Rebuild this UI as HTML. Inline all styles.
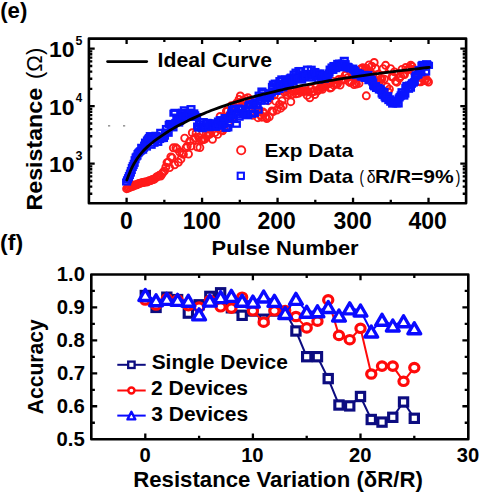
<!DOCTYPE html>
<html><head><meta charset="utf-8"><style>
html,body{margin:0;padding:0;background:#fff;}
body{width:480px;height:493px;overflow:hidden;font-family:"Liberation Sans",sans-serif;}
svg{display:block;}
</style></head><body>
<svg width="480" height="493" viewBox="0 0 480 493" font-family="&quot;Liberation Sans&quot;, sans-serif">
<rect width="480" height="493" fill="#fff"/>
<g fill="none" stroke="#ff1a1a" stroke-width="1.9">
<circle cx="126.6" cy="188.7" r="3.5"/>
<circle cx="127.9" cy="188.2" r="3.5"/>
<circle cx="129.1" cy="187.7" r="3.5"/>
<circle cx="130.4" cy="187.0" r="3.5"/>
<circle cx="131.7" cy="186.4" r="3.5"/>
<circle cx="132.9" cy="186.3" r="3.5"/>
<circle cx="134.2" cy="185.0" r="3.5"/>
<circle cx="135.4" cy="185.2" r="3.5"/>
<circle cx="136.7" cy="184.8" r="3.5"/>
<circle cx="138.0" cy="184.0" r="3.5"/>
<circle cx="139.2" cy="183.5" r="3.5"/>
<circle cx="140.5" cy="183.1" r="3.5"/>
<circle cx="141.8" cy="182.7" r="3.5"/>
<circle cx="143.0" cy="182.5" r="3.5"/>
<circle cx="144.3" cy="182.2" r="3.5"/>
<circle cx="145.5" cy="181.9" r="3.5"/>
<circle cx="146.8" cy="182.0" r="3.5"/>
<circle cx="148.1" cy="181.3" r="3.5"/>
<circle cx="149.3" cy="180.8" r="3.5"/>
<circle cx="150.6" cy="180.6" r="3.5"/>
<circle cx="151.9" cy="179.8" r="3.5"/>
<circle cx="153.1" cy="179.5" r="3.5"/>
<circle cx="154.4" cy="179.1" r="3.5"/>
<circle cx="155.7" cy="177.9" r="3.5"/>
<circle cx="156.9" cy="176.6" r="3.5"/>
<circle cx="158.2" cy="176.4" r="3.5"/>
<circle cx="159.4" cy="175.3" r="3.5"/>
<circle cx="160.7" cy="176.1" r="3.5"/>
<circle cx="162.0" cy="174.0" r="3.5"/>
<circle cx="163.2" cy="172.2" r="3.5"/>
<circle cx="164.5" cy="170.9" r="3.5"/>
<circle cx="165.8" cy="167.2" r="3.5"/>
<circle cx="167.0" cy="162.6" r="3.5"/>
<circle cx="168.3" cy="162.1" r="3.5"/>
<circle cx="169.6" cy="167.6" r="3.5"/>
<circle cx="170.8" cy="156.9" r="3.5"/>
<circle cx="172.1" cy="157.8" r="3.5"/>
<circle cx="173.3" cy="147.8" r="3.5"/>
<circle cx="174.6" cy="164.8" r="3.5"/>
<circle cx="175.9" cy="147.8" r="3.5"/>
<circle cx="177.1" cy="148.9" r="3.5"/>
<circle cx="178.4" cy="162.3" r="3.5"/>
<circle cx="179.7" cy="152.0" r="3.5"/>
<circle cx="180.9" cy="159.2" r="3.5"/>
<circle cx="182.2" cy="153.1" r="3.5"/>
<circle cx="183.4" cy="154.4" r="3.5"/>
<circle cx="184.7" cy="138.1" r="3.5"/>
<circle cx="186.0" cy="147.8" r="3.5"/>
<circle cx="187.2" cy="146.2" r="3.5"/>
<circle cx="188.5" cy="154.1" r="3.5"/>
<circle cx="189.8" cy="141.2" r="3.5"/>
<circle cx="191.0" cy="146.1" r="3.5"/>
<circle cx="192.3" cy="132.7" r="3.5"/>
<circle cx="193.6" cy="139.7" r="3.5"/>
<circle cx="194.8" cy="137.7" r="3.5"/>
<circle cx="196.1" cy="133.2" r="3.5"/>
<circle cx="197.3" cy="147.0" r="3.5"/>
<circle cx="198.6" cy="137.2" r="3.5"/>
<circle cx="199.9" cy="147.6" r="3.5"/>
<circle cx="201.1" cy="140.2" r="3.5"/>
<circle cx="202.4" cy="139.8" r="3.5"/>
<circle cx="203.7" cy="139.4" r="3.5"/>
<circle cx="204.9" cy="139.1" r="3.5"/>
<circle cx="206.2" cy="133.7" r="3.5"/>
<circle cx="207.4" cy="135.7" r="3.5"/>
<circle cx="208.7" cy="132.9" r="3.5"/>
<circle cx="210.0" cy="134.0" r="3.5"/>
<circle cx="211.2" cy="128.6" r="3.5"/>
<circle cx="212.5" cy="139.3" r="3.5"/>
<circle cx="213.8" cy="126.1" r="3.5"/>
<circle cx="215.0" cy="132.6" r="3.5"/>
<circle cx="216.3" cy="123.9" r="3.5"/>
<circle cx="217.6" cy="134.4" r="3.5"/>
<circle cx="218.8" cy="128.8" r="3.5"/>
<circle cx="220.1" cy="116.5" r="3.5"/>
<circle cx="221.3" cy="130.0" r="3.5"/>
<circle cx="222.6" cy="130.8" r="3.5"/>
<circle cx="223.9" cy="128.2" r="3.5"/>
<circle cx="225.1" cy="120.2" r="3.5"/>
<circle cx="226.4" cy="111.2" r="3.5"/>
<circle cx="227.7" cy="110.9" r="3.5"/>
<circle cx="228.9" cy="121.5" r="3.5"/>
<circle cx="230.2" cy="113.6" r="3.5"/>
<circle cx="231.5" cy="105.6" r="3.5"/>
<circle cx="232.7" cy="115.8" r="3.5"/>
<circle cx="234.0" cy="109.9" r="3.5"/>
<circle cx="235.2" cy="107.3" r="3.5"/>
<circle cx="236.5" cy="103.1" r="3.5"/>
<circle cx="237.8" cy="102.8" r="3.5"/>
<circle cx="239.0" cy="99.4" r="3.5"/>
<circle cx="240.3" cy="96.0" r="3.5"/>
<circle cx="241.6" cy="106.4" r="3.5"/>
<circle cx="242.8" cy="100.6" r="3.5"/>
<circle cx="244.1" cy="101.0" r="3.5"/>
<circle cx="245.3" cy="98.8" r="3.5"/>
<circle cx="246.6" cy="105.2" r="3.5"/>
<circle cx="247.9" cy="97.6" r="3.5"/>
<circle cx="249.1" cy="103.3" r="3.5"/>
<circle cx="250.4" cy="99.9" r="3.5"/>
<circle cx="251.7" cy="102.2" r="3.5"/>
<circle cx="252.9" cy="115.2" r="3.5"/>
<circle cx="254.2" cy="111.8" r="3.5"/>
<circle cx="255.5" cy="109.4" r="3.5"/>
<circle cx="256.7" cy="111.7" r="3.5"/>
<circle cx="258.0" cy="117.7" r="3.5"/>
<circle cx="259.2" cy="110.3" r="3.5"/>
<circle cx="260.5" cy="114.9" r="3.5"/>
<circle cx="261.8" cy="117.2" r="3.5"/>
<circle cx="263.0" cy="112.0" r="3.5"/>
<circle cx="264.3" cy="113.4" r="3.5"/>
<circle cx="265.6" cy="116.7" r="3.5"/>
<circle cx="266.8" cy="118.5" r="3.5"/>
<circle cx="268.1" cy="100.7" r="3.5"/>
<circle cx="269.3" cy="116.8" r="3.5"/>
<circle cx="270.6" cy="93.9" r="3.5"/>
<circle cx="271.9" cy="111.0" r="3.5"/>
<circle cx="273.1" cy="111.7" r="3.5"/>
<circle cx="274.4" cy="95.1" r="3.5"/>
<circle cx="275.7" cy="101.2" r="3.5"/>
<circle cx="276.9" cy="110.0" r="3.5"/>
<circle cx="278.2" cy="90.3" r="3.5"/>
<circle cx="279.5" cy="104.5" r="3.5"/>
<circle cx="280.7" cy="108.2" r="3.5"/>
<circle cx="282.0" cy="100.8" r="3.5"/>
<circle cx="283.2" cy="105.8" r="3.5"/>
<circle cx="284.5" cy="92.3" r="3.5"/>
<circle cx="285.8" cy="91.0" r="3.5"/>
<circle cx="287.0" cy="94.8" r="3.5"/>
<circle cx="288.3" cy="90.1" r="3.5"/>
<circle cx="289.6" cy="93.2" r="3.5"/>
<circle cx="290.8" cy="101.7" r="3.5"/>
<circle cx="292.1" cy="94.6" r="3.5"/>
<circle cx="293.4" cy="91.3" r="3.5"/>
<circle cx="294.6" cy="90.4" r="3.5"/>
<circle cx="295.9" cy="93.8" r="3.5"/>
<circle cx="297.1" cy="90.7" r="3.5"/>
<circle cx="298.4" cy="93.3" r="3.5"/>
<circle cx="299.7" cy="90.4" r="3.5"/>
<circle cx="300.9" cy="90.1" r="3.5"/>
<circle cx="302.2" cy="91.9" r="3.5"/>
<circle cx="303.5" cy="91.5" r="3.5"/>
<circle cx="304.7" cy="91.2" r="3.5"/>
<circle cx="306.0" cy="90.7" r="3.5"/>
<circle cx="307.2" cy="95.4" r="3.5"/>
<circle cx="308.5" cy="91.7" r="3.5"/>
<circle cx="309.8" cy="97.8" r="3.5"/>
<circle cx="311.0" cy="88.5" r="3.5"/>
<circle cx="312.3" cy="91.6" r="3.5"/>
<circle cx="313.6" cy="91.5" r="3.5"/>
<circle cx="314.8" cy="94.5" r="3.5"/>
<circle cx="316.1" cy="87.0" r="3.5"/>
<circle cx="317.4" cy="91.0" r="3.5"/>
<circle cx="318.6" cy="89.4" r="3.5"/>
<circle cx="319.9" cy="89.2" r="3.5"/>
<circle cx="321.1" cy="88.2" r="3.5"/>
<circle cx="322.4" cy="89.3" r="3.5"/>
<circle cx="323.7" cy="86.3" r="3.5"/>
<circle cx="324.9" cy="86.3" r="3.5"/>
<circle cx="326.2" cy="85.2" r="3.5"/>
<circle cx="327.5" cy="83.8" r="3.5"/>
<circle cx="328.7" cy="83.9" r="3.5"/>
<circle cx="330.0" cy="88.0" r="3.5"/>
<circle cx="331.2" cy="87.5" r="3.5"/>
<circle cx="332.5" cy="81.1" r="3.5"/>
<circle cx="333.8" cy="85.2" r="3.5"/>
<circle cx="335.0" cy="83.6" r="3.5"/>
<circle cx="336.3" cy="84.0" r="3.5"/>
<circle cx="337.6" cy="83.8" r="3.5"/>
<circle cx="338.8" cy="79.5" r="3.5"/>
<circle cx="340.1" cy="85.1" r="3.5"/>
<circle cx="341.4" cy="79.4" r="3.5"/>
<circle cx="342.6" cy="80.1" r="3.5"/>
<circle cx="343.9" cy="79.8" r="3.5"/>
<circle cx="345.1" cy="75.4" r="3.5"/>
<circle cx="346.4" cy="73.9" r="3.5"/>
<circle cx="347.7" cy="77.6" r="3.5"/>
<circle cx="348.9" cy="81.7" r="3.5"/>
<circle cx="350.2" cy="82.5" r="3.5"/>
<circle cx="351.5" cy="81.6" r="3.5"/>
<circle cx="352.7" cy="73.2" r="3.5"/>
<circle cx="354.0" cy="84.6" r="3.5"/>
<circle cx="355.3" cy="83.2" r="3.5"/>
<circle cx="356.5" cy="84.1" r="3.5"/>
<circle cx="357.8" cy="78.0" r="3.5"/>
<circle cx="359.0" cy="83.4" r="3.5"/>
<circle cx="360.3" cy="69.4" r="3.5"/>
<circle cx="361.6" cy="68.5" r="3.5"/>
<circle cx="362.8" cy="67.7" r="3.5"/>
<circle cx="364.1" cy="70.7" r="3.5"/>
<circle cx="365.4" cy="70.0" r="3.5"/>
<circle cx="366.6" cy="68.4" r="3.5"/>
<circle cx="367.9" cy="73.6" r="3.5"/>
<circle cx="369.1" cy="64.9" r="3.5"/>
<circle cx="370.4" cy="73.5" r="3.5"/>
<circle cx="371.7" cy="66.1" r="3.5"/>
<circle cx="372.9" cy="74.7" r="3.5"/>
<circle cx="374.2" cy="62.5" r="3.5"/>
<circle cx="375.5" cy="68.2" r="3.5"/>
<circle cx="376.7" cy="81.8" r="3.5"/>
<circle cx="378.0" cy="74.4" r="3.5"/>
<circle cx="379.3" cy="81.7" r="3.5"/>
<circle cx="380.5" cy="79.2" r="3.5"/>
<circle cx="381.8" cy="78.8" r="3.5"/>
<circle cx="383.0" cy="68.6" r="3.5"/>
<circle cx="384.3" cy="79.1" r="3.5"/>
<circle cx="385.6" cy="65.3" r="3.5"/>
<circle cx="386.8" cy="86.7" r="3.5"/>
<circle cx="388.1" cy="91.6" r="3.5"/>
<circle cx="389.4" cy="89.1" r="3.5"/>
<circle cx="390.6" cy="68.6" r="3.5"/>
<circle cx="391.9" cy="76.9" r="3.5"/>
<circle cx="393.1" cy="77.1" r="3.5"/>
<circle cx="394.4" cy="71.9" r="3.5"/>
<circle cx="395.7" cy="81.3" r="3.5"/>
<circle cx="396.9" cy="82.2" r="3.5"/>
<circle cx="398.2" cy="73.6" r="3.5"/>
<circle cx="399.5" cy="78.0" r="3.5"/>
<circle cx="400.7" cy="76.4" r="3.5"/>
<circle cx="402.0" cy="69.4" r="3.5"/>
<circle cx="403.3" cy="74.4" r="3.5"/>
<circle cx="404.5" cy="74.6" r="3.5"/>
<circle cx="405.8" cy="67.5" r="3.5"/>
<circle cx="407.0" cy="70.0" r="3.5"/>
<circle cx="408.3" cy="69.5" r="3.5"/>
<circle cx="409.6" cy="68.3" r="3.5"/>
<circle cx="410.8" cy="65.2" r="3.5"/>
<circle cx="412.1" cy="66.5" r="3.5"/>
<circle cx="413.4" cy="69.4" r="3.5"/>
<circle cx="414.6" cy="72.9" r="3.5"/>
<circle cx="415.9" cy="75.8" r="3.5"/>
<circle cx="417.2" cy="77.4" r="3.5"/>
<circle cx="418.4" cy="81.2" r="3.5"/>
<circle cx="419.7" cy="81.7" r="3.5"/>
<circle cx="420.9" cy="81.8" r="3.5"/>
<circle cx="422.2" cy="78.3" r="3.5"/>
<circle cx="423.5" cy="77.2" r="3.5"/>
<circle cx="424.7" cy="80.5" r="3.5"/>
<circle cx="426.0" cy="78.6" r="3.5"/>
<circle cx="427.3" cy="80.7" r="3.5"/>
<circle cx="428.5" cy="82.0" r="3.5"/>
<circle cx="366.3" cy="95.8" r="3.5"/>
</g>
<g fill="none" stroke="#0a14ff" stroke-width="2.3">
<rect x="123.2" y="179.6" width="6.8" height="4.8"/>
<rect x="124.1" y="177.4" width="6.8" height="4.8"/>
<rect x="125.1" y="175.3" width="6.8" height="4.8"/>
<rect x="126.0" y="173.1" width="6.8" height="4.8"/>
<rect x="127.0" y="170.7" width="6.8" height="4.8"/>
<rect x="127.9" y="168.1" width="6.8" height="4.8"/>
<rect x="128.9" y="165.1" width="6.8" height="4.8"/>
<rect x="129.8" y="163.1" width="6.8" height="4.8"/>
<rect x="130.8" y="160.9" width="6.8" height="4.8"/>
<rect x="131.7" y="157.3" width="6.8" height="4.8"/>
<rect x="132.7" y="154.6" width="6.8" height="4.8"/>
<rect x="133.6" y="153.7" width="6.8" height="4.8"/>
<rect x="134.6" y="151.2" width="6.8" height="4.8"/>
<rect x="135.5" y="150.0" width="6.8" height="4.8"/>
<rect x="136.5" y="149.0" width="6.8" height="4.8"/>
<rect x="137.4" y="148.3" width="6.8" height="4.8"/>
<rect x="138.3" y="144.9" width="6.8" height="4.8"/>
<rect x="139.3" y="147.8" width="6.8" height="4.8"/>
<rect x="140.2" y="145.8" width="6.8" height="4.8"/>
<rect x="141.2" y="142.7" width="6.8" height="4.8"/>
<rect x="142.1" y="139.7" width="6.8" height="4.8"/>
<rect x="143.1" y="144.7" width="6.8" height="4.8"/>
<rect x="144.0" y="137.6" width="6.8" height="4.8"/>
<rect x="145.0" y="136.4" width="6.8" height="4.8"/>
<rect x="145.9" y="135.1" width="6.8" height="4.8"/>
<rect x="146.9" y="133.2" width="6.8" height="4.8"/>
<rect x="147.8" y="142.9" width="6.8" height="4.8"/>
<rect x="148.8" y="134.9" width="6.8" height="4.8"/>
<rect x="149.7" y="135.0" width="6.8" height="4.8"/>
<rect x="150.6" y="140.9" width="6.8" height="4.8"/>
<rect x="151.6" y="138.1" width="6.8" height="4.8"/>
<rect x="152.5" y="132.9" width="6.8" height="4.8"/>
<rect x="153.5" y="135.4" width="6.8" height="4.8"/>
<rect x="154.4" y="140.0" width="6.8" height="4.8"/>
<rect x="155.4" y="134.1" width="6.8" height="4.8"/>
<rect x="156.3" y="137.1" width="6.8" height="4.8"/>
<rect x="157.3" y="129.9" width="6.8" height="4.8"/>
<rect x="158.2" y="136.2" width="6.8" height="4.8"/>
<rect x="159.2" y="136.1" width="6.8" height="4.8"/>
<rect x="160.1" y="136.1" width="6.8" height="4.8"/>
<rect x="161.1" y="133.8" width="6.8" height="4.8"/>
<rect x="162.0" y="130.0" width="6.8" height="4.8"/>
<rect x="163.0" y="126.1" width="6.8" height="4.8"/>
<rect x="163.9" y="129.7" width="6.8" height="4.8"/>
<rect x="164.8" y="130.9" width="6.8" height="4.8"/>
<rect x="165.8" y="122.0" width="6.8" height="4.8"/>
<rect x="166.7" y="121.0" width="6.8" height="4.8"/>
<rect x="167.7" y="123.0" width="6.8" height="4.8"/>
<rect x="168.6" y="124.6" width="6.8" height="4.8"/>
<rect x="169.6" y="125.5" width="6.8" height="4.8"/>
<rect x="170.5" y="110.8" width="6.8" height="4.8"/>
<rect x="171.5" y="109.9" width="6.8" height="4.8"/>
<rect x="172.4" y="120.1" width="6.8" height="4.8"/>
<rect x="173.4" y="116.8" width="6.8" height="4.8"/>
<rect x="174.3" y="117.3" width="6.8" height="4.8"/>
<rect x="175.3" y="120.7" width="6.8" height="4.8"/>
<rect x="176.2" y="118.9" width="6.8" height="4.8"/>
<rect x="177.1" y="116.8" width="6.8" height="4.8"/>
<rect x="178.1" y="115.1" width="6.8" height="4.8"/>
<rect x="179.0" y="109.9" width="6.8" height="4.8"/>
<rect x="180.0" y="112.4" width="6.8" height="4.8"/>
<rect x="180.9" y="107.4" width="6.8" height="4.8"/>
<rect x="181.9" y="113.8" width="6.8" height="4.8"/>
<rect x="182.8" y="113.8" width="6.8" height="4.8"/>
<rect x="183.8" y="113.4" width="6.8" height="4.8"/>
<rect x="184.7" y="110.4" width="6.8" height="4.8"/>
<rect x="185.7" y="109.7" width="6.8" height="4.8"/>
<rect x="186.6" y="110.2" width="6.8" height="4.8"/>
<rect x="187.6" y="106.2" width="6.8" height="4.8"/>
<rect x="188.5" y="114.9" width="6.8" height="4.8"/>
<rect x="189.5" y="112.0" width="6.8" height="4.8"/>
<rect x="190.4" y="110.5" width="6.8" height="4.8"/>
<rect x="191.3" y="112.4" width="6.8" height="4.8"/>
<rect x="192.3" y="115.1" width="6.8" height="4.8"/>
<rect x="193.2" y="114.2" width="6.8" height="4.8"/>
<rect x="194.2" y="123.6" width="6.8" height="4.8"/>
<rect x="195.1" y="125.7" width="6.8" height="4.8"/>
<rect x="196.1" y="121.5" width="6.8" height="4.8"/>
<rect x="197.0" y="119.3" width="6.8" height="4.8"/>
<rect x="198.0" y="124.5" width="6.8" height="4.8"/>
<rect x="198.9" y="126.3" width="6.8" height="4.8"/>
<rect x="199.9" y="119.2" width="6.8" height="4.8"/>
<rect x="200.8" y="123.6" width="6.8" height="4.8"/>
<rect x="201.8" y="124.4" width="6.8" height="4.8"/>
<rect x="202.7" y="125.1" width="6.8" height="4.8"/>
<rect x="203.6" y="120.0" width="6.8" height="4.8"/>
<rect x="204.6" y="120.1" width="6.8" height="4.8"/>
<rect x="205.5" y="125.3" width="6.8" height="4.8"/>
<rect x="206.5" y="120.9" width="6.8" height="4.8"/>
<rect x="207.4" y="121.3" width="6.8" height="4.8"/>
<rect x="208.4" y="123.2" width="6.8" height="4.8"/>
<rect x="209.3" y="122.4" width="6.8" height="4.8"/>
<rect x="210.3" y="124.0" width="6.8" height="4.8"/>
<rect x="211.2" y="120.7" width="6.8" height="4.8"/>
<rect x="212.2" y="125.0" width="6.8" height="4.8"/>
<rect x="213.1" y="120.6" width="6.8" height="4.8"/>
<rect x="214.1" y="123.9" width="6.8" height="4.8"/>
<rect x="215.0" y="118.6" width="6.8" height="4.8"/>
<rect x="216.0" y="121.2" width="6.8" height="4.8"/>
<rect x="216.9" y="117.2" width="6.8" height="4.8"/>
<rect x="217.8" y="119.1" width="6.8" height="4.8"/>
<rect x="218.8" y="118.7" width="6.8" height="4.8"/>
<rect x="219.7" y="122.4" width="6.8" height="4.8"/>
<rect x="220.7" y="119.7" width="6.8" height="4.8"/>
<rect x="221.6" y="115.1" width="6.8" height="4.8"/>
<rect x="222.6" y="126.0" width="6.8" height="4.8"/>
<rect x="223.5" y="124.9" width="6.8" height="4.8"/>
<rect x="224.5" y="125.5" width="6.8" height="4.8"/>
<rect x="225.4" y="115.9" width="6.8" height="4.8"/>
<rect x="226.4" y="117.2" width="6.8" height="4.8"/>
<rect x="227.3" y="113.3" width="6.8" height="4.8"/>
<rect x="228.3" y="110.2" width="6.8" height="4.8"/>
<rect x="229.2" y="106.9" width="6.8" height="4.8"/>
<rect x="230.1" y="116.1" width="6.8" height="4.8"/>
<rect x="231.1" y="106.2" width="6.8" height="4.8"/>
<rect x="232.0" y="106.9" width="6.8" height="4.8"/>
<rect x="233.0" y="121.9" width="6.8" height="4.8"/>
<rect x="233.9" y="112.6" width="6.8" height="4.8"/>
<rect x="234.9" y="105.6" width="6.8" height="4.8"/>
<rect x="235.8" y="114.8" width="6.8" height="4.8"/>
<rect x="236.8" y="106.2" width="6.8" height="4.8"/>
<rect x="237.7" y="110.7" width="6.8" height="4.8"/>
<rect x="238.7" y="106.4" width="6.8" height="4.8"/>
<rect x="239.6" y="110.5" width="6.8" height="4.8"/>
<rect x="240.6" y="112.2" width="6.8" height="4.8"/>
<rect x="241.5" y="110.7" width="6.8" height="4.8"/>
<rect x="242.5" y="108.0" width="6.8" height="4.8"/>
<rect x="243.4" y="113.0" width="6.8" height="4.8"/>
<rect x="244.3" y="113.4" width="6.8" height="4.8"/>
<rect x="245.3" y="103.3" width="6.8" height="4.8"/>
<rect x="246.2" y="102.2" width="6.8" height="4.8"/>
<rect x="247.2" y="101.5" width="6.8" height="4.8"/>
<rect x="248.1" y="111.9" width="6.8" height="4.8"/>
<rect x="249.1" y="111.2" width="6.8" height="4.8"/>
<rect x="250.0" y="101.2" width="6.8" height="4.8"/>
<rect x="251.0" y="111.0" width="6.8" height="4.8"/>
<rect x="251.9" y="99.7" width="6.8" height="4.8"/>
<rect x="252.9" y="103.6" width="6.8" height="4.8"/>
<rect x="253.8" y="102.7" width="6.8" height="4.8"/>
<rect x="254.8" y="107.8" width="6.8" height="4.8"/>
<rect x="255.7" y="92.7" width="6.8" height="4.8"/>
<rect x="256.7" y="95.6" width="6.8" height="4.8"/>
<rect x="257.6" y="98.7" width="6.8" height="4.8"/>
<rect x="258.5" y="88.6" width="6.8" height="4.8"/>
<rect x="259.5" y="89.9" width="6.8" height="4.8"/>
<rect x="260.4" y="92.8" width="6.8" height="4.8"/>
<rect x="261.4" y="98.7" width="6.8" height="4.8"/>
<rect x="262.3" y="95.9" width="6.8" height="4.8"/>
<rect x="263.3" y="96.2" width="6.8" height="4.8"/>
<rect x="264.2" y="94.2" width="6.8" height="4.8"/>
<rect x="265.2" y="92.6" width="6.8" height="4.8"/>
<rect x="266.1" y="93.9" width="6.8" height="4.8"/>
<rect x="267.1" y="90.6" width="6.8" height="4.8"/>
<rect x="268.0" y="90.7" width="6.8" height="4.8"/>
<rect x="269.0" y="84.0" width="6.8" height="4.8"/>
<rect x="269.9" y="81.7" width="6.8" height="4.8"/>
<rect x="270.8" y="88.7" width="6.8" height="4.8"/>
<rect x="271.8" y="80.7" width="6.8" height="4.8"/>
<rect x="272.7" y="89.1" width="6.8" height="4.8"/>
<rect x="273.7" y="84.6" width="6.8" height="4.8"/>
<rect x="274.6" y="81.0" width="6.8" height="4.8"/>
<rect x="275.6" y="87.1" width="6.8" height="4.8"/>
<rect x="276.5" y="78.2" width="6.8" height="4.8"/>
<rect x="277.5" y="81.6" width="6.8" height="4.8"/>
<rect x="278.4" y="76.5" width="6.8" height="4.8"/>
<rect x="279.4" y="85.5" width="6.8" height="4.8"/>
<rect x="280.3" y="80.8" width="6.8" height="4.8"/>
<rect x="281.3" y="82.8" width="6.8" height="4.8"/>
<rect x="282.2" y="76.6" width="6.8" height="4.8"/>
<rect x="283.2" y="81.8" width="6.8" height="4.8"/>
<rect x="284.1" y="80.3" width="6.8" height="4.8"/>
<rect x="285.0" y="79.2" width="6.8" height="4.8"/>
<rect x="286.0" y="82.6" width="6.8" height="4.8"/>
<rect x="286.9" y="75.5" width="6.8" height="4.8"/>
<rect x="287.9" y="74.7" width="6.8" height="4.8"/>
<rect x="288.8" y="78.0" width="6.8" height="4.8"/>
<rect x="289.8" y="79.7" width="6.8" height="4.8"/>
<rect x="290.7" y="71.7" width="6.8" height="4.8"/>
<rect x="291.7" y="76.5" width="6.8" height="4.8"/>
<rect x="292.6" y="69.7" width="6.8" height="4.8"/>
<rect x="293.6" y="74.4" width="6.8" height="4.8"/>
<rect x="294.5" y="77.1" width="6.8" height="4.8"/>
<rect x="295.5" y="68.2" width="6.8" height="4.8"/>
<rect x="296.4" y="76.0" width="6.8" height="4.8"/>
<rect x="297.3" y="68.1" width="6.8" height="4.8"/>
<rect x="298.3" y="77.7" width="6.8" height="4.8"/>
<rect x="299.2" y="72.7" width="6.8" height="4.8"/>
<rect x="300.2" y="71.7" width="6.8" height="4.8"/>
<rect x="301.1" y="74.4" width="6.8" height="4.8"/>
<rect x="302.1" y="72.1" width="6.8" height="4.8"/>
<rect x="303.0" y="73.8" width="6.8" height="4.8"/>
<rect x="304.0" y="66.7" width="6.8" height="4.8"/>
<rect x="304.9" y="71.3" width="6.8" height="4.8"/>
<rect x="305.9" y="71.4" width="6.8" height="4.8"/>
<rect x="306.8" y="75.7" width="6.8" height="4.8"/>
<rect x="307.8" y="66.8" width="6.8" height="4.8"/>
<rect x="308.7" y="71.5" width="6.8" height="4.8"/>
<rect x="309.7" y="73.7" width="6.8" height="4.8"/>
<rect x="310.6" y="73.3" width="6.8" height="4.8"/>
<rect x="311.5" y="69.1" width="6.8" height="4.8"/>
<rect x="312.5" y="74.5" width="6.8" height="4.8"/>
<rect x="313.4" y="71.4" width="6.8" height="4.8"/>
<rect x="314.4" y="70.9" width="6.8" height="4.8"/>
<rect x="315.3" y="77.6" width="6.8" height="4.8"/>
<rect x="316.3" y="70.5" width="6.8" height="4.8"/>
<rect x="317.2" y="73.0" width="6.8" height="4.8"/>
<rect x="318.2" y="76.2" width="6.8" height="4.8"/>
<rect x="319.1" y="75.7" width="6.8" height="4.8"/>
<rect x="320.1" y="73.8" width="6.8" height="4.8"/>
<rect x="321.0" y="76.8" width="6.8" height="4.8"/>
<rect x="322.0" y="72.1" width="6.8" height="4.8"/>
<rect x="322.9" y="73.1" width="6.8" height="4.8"/>
<rect x="323.8" y="74.6" width="6.8" height="4.8"/>
<rect x="324.8" y="71.9" width="6.8" height="4.8"/>
<rect x="325.7" y="70.5" width="6.8" height="4.8"/>
<rect x="326.7" y="66.7" width="6.8" height="4.8"/>
<rect x="327.6" y="67.6" width="6.8" height="4.8"/>
<rect x="328.6" y="64.6" width="6.8" height="4.8"/>
<rect x="329.5" y="68.0" width="6.8" height="4.8"/>
<rect x="330.5" y="63.1" width="6.8" height="4.8"/>
<rect x="331.4" y="63.6" width="6.8" height="4.8"/>
<rect x="332.4" y="66.3" width="6.8" height="4.8"/>
<rect x="333.3" y="63.1" width="6.8" height="4.8"/>
<rect x="334.3" y="61.0" width="6.8" height="4.8"/>
<rect x="335.2" y="65.3" width="6.8" height="4.8"/>
<rect x="336.2" y="60.7" width="6.8" height="4.8"/>
<rect x="337.1" y="64.7" width="6.8" height="4.8"/>
<rect x="338.0" y="63.9" width="6.8" height="4.8"/>
<rect x="339.0" y="60.8" width="6.8" height="4.8"/>
<rect x="339.9" y="62.8" width="6.8" height="4.8"/>
<rect x="340.9" y="57.9" width="6.8" height="4.8"/>
<rect x="341.8" y="61.3" width="6.8" height="4.8"/>
<rect x="342.8" y="65.4" width="6.8" height="4.8"/>
<rect x="343.7" y="63.8" width="6.8" height="4.8"/>
<rect x="344.7" y="64.2" width="6.8" height="4.8"/>
<rect x="345.6" y="65.5" width="6.8" height="4.8"/>
<rect x="346.6" y="66.2" width="6.8" height="4.8"/>
<rect x="347.5" y="66.4" width="6.8" height="4.8"/>
<rect x="348.5" y="66.2" width="6.8" height="4.8"/>
<rect x="349.4" y="65.7" width="6.8" height="4.8"/>
<rect x="350.3" y="67.3" width="6.8" height="4.8"/>
<rect x="351.3" y="68.2" width="6.8" height="4.8"/>
<rect x="352.2" y="69.8" width="6.8" height="4.8"/>
<rect x="353.2" y="73.2" width="6.8" height="4.8"/>
<rect x="354.1" y="70.2" width="6.8" height="4.8"/>
<rect x="355.1" y="71.0" width="6.8" height="4.8"/>
<rect x="356.0" y="70.9" width="6.8" height="4.8"/>
<rect x="357.0" y="72.3" width="6.8" height="4.8"/>
<rect x="357.9" y="74.5" width="6.8" height="4.8"/>
<rect x="358.9" y="74.6" width="6.8" height="4.8"/>
<rect x="359.8" y="72.3" width="6.8" height="4.8"/>
<rect x="360.8" y="72.0" width="6.8" height="4.8"/>
<rect x="361.7" y="76.0" width="6.8" height="4.8"/>
<rect x="362.7" y="74.1" width="6.8" height="4.8"/>
<rect x="363.6" y="75.7" width="6.8" height="4.8"/>
<rect x="364.5" y="72.1" width="6.8" height="4.8"/>
<rect x="365.5" y="78.3" width="6.8" height="4.8"/>
<rect x="366.4" y="75.6" width="6.8" height="4.8"/>
<rect x="367.4" y="77.9" width="6.8" height="4.8"/>
<rect x="368.3" y="77.0" width="6.8" height="4.8"/>
<rect x="369.3" y="79.6" width="6.8" height="4.8"/>
<rect x="370.2" y="83.4" width="6.8" height="4.8"/>
<rect x="371.2" y="84.5" width="6.8" height="4.8"/>
<rect x="372.1" y="83.1" width="6.8" height="4.8"/>
<rect x="373.1" y="86.1" width="6.8" height="4.8"/>
<rect x="374.0" y="85.0" width="6.8" height="4.8"/>
<rect x="375.0" y="85.4" width="6.8" height="4.8"/>
<rect x="375.9" y="87.6" width="6.8" height="4.8"/>
<rect x="376.9" y="86.3" width="6.8" height="4.8"/>
<rect x="377.8" y="88.0" width="6.8" height="4.8"/>
<rect x="378.7" y="91.6" width="6.8" height="4.8"/>
<rect x="379.7" y="93.0" width="6.8" height="4.8"/>
<rect x="380.6" y="89.2" width="6.8" height="4.8"/>
<rect x="381.6" y="94.7" width="6.8" height="4.8"/>
<rect x="382.5" y="96.3" width="6.8" height="4.8"/>
<rect x="383.5" y="94.7" width="6.8" height="4.8"/>
<rect x="384.4" y="93.2" width="6.8" height="4.8"/>
<rect x="385.4" y="98.2" width="6.8" height="4.8"/>
<rect x="386.3" y="96.4" width="6.8" height="4.8"/>
<rect x="387.3" y="99.8" width="6.8" height="4.8"/>
<rect x="388.2" y="99.1" width="6.8" height="4.8"/>
<rect x="389.2" y="101.7" width="6.8" height="4.8"/>
<rect x="390.1" y="100.1" width="6.8" height="4.8"/>
<rect x="391.0" y="101.1" width="6.8" height="4.8"/>
<rect x="392.0" y="101.1" width="6.8" height="4.8"/>
<rect x="392.9" y="101.4" width="6.8" height="4.8"/>
<rect x="393.9" y="97.6" width="6.8" height="4.8"/>
<rect x="394.8" y="101.6" width="6.8" height="4.8"/>
<rect x="395.8" y="95.5" width="6.8" height="4.8"/>
<rect x="396.7" y="94.2" width="6.8" height="4.8"/>
<rect x="397.7" y="92.5" width="6.8" height="4.8"/>
<rect x="398.6" y="89.3" width="6.8" height="4.8"/>
<rect x="399.6" y="91.4" width="6.8" height="4.8"/>
<rect x="400.5" y="93.7" width="6.8" height="4.8"/>
<rect x="401.5" y="91.7" width="6.8" height="4.8"/>
<rect x="402.4" y="84.9" width="6.8" height="4.8"/>
<rect x="403.4" y="83.0" width="6.8" height="4.8"/>
<rect x="404.3" y="83.5" width="6.8" height="4.8"/>
<rect x="405.2" y="86.9" width="6.8" height="4.8"/>
<rect x="406.2" y="82.6" width="6.8" height="4.8"/>
<rect x="407.1" y="85.8" width="6.8" height="4.8"/>
<rect x="408.1" y="81.9" width="6.8" height="4.8"/>
<rect x="409.0" y="80.4" width="6.8" height="4.8"/>
<rect x="410.0" y="80.6" width="6.8" height="4.8"/>
<rect x="410.9" y="79.3" width="6.8" height="4.8"/>
<rect x="411.9" y="74.3" width="6.8" height="4.8"/>
<rect x="412.8" y="72.5" width="6.8" height="4.8"/>
<rect x="413.8" y="72.9" width="6.8" height="4.8"/>
<rect x="414.7" y="72.2" width="6.8" height="4.8"/>
<rect x="415.7" y="67.2" width="6.8" height="4.8"/>
<rect x="416.6" y="69.2" width="6.8" height="4.8"/>
<rect x="417.5" y="70.4" width="6.8" height="4.8"/>
<rect x="418.5" y="62.9" width="6.8" height="4.8"/>
<rect x="419.4" y="62.0" width="6.8" height="4.8"/>
<rect x="420.4" y="62.5" width="6.8" height="4.8"/>
<rect x="421.3" y="63.6" width="6.8" height="4.8"/>
<rect x="422.3" y="69.7" width="6.8" height="4.8"/>
<rect x="423.2" y="61.3" width="6.8" height="4.8"/>
<rect x="424.2" y="62.5" width="6.8" height="4.8"/>
<rect x="425.1" y="63.0" width="6.8" height="4.8"/>
</g>
<path d="M126.80,180.00 C127.65,177.93 130.22,171.13 131.93,167.60 C133.63,164.06 135.34,161.36 137.05,158.77 C138.76,156.18 140.47,154.05 142.18,152.07 C143.88,150.09 145.59,148.47 147.30,146.87 C149.01,145.27 150.72,143.84 152.43,142.47 C154.14,141.11 155.84,139.89 157.55,138.67 C159.26,137.44 160.97,136.27 162.68,135.11 C164.39,133.96 166.09,132.81 167.80,131.73 C169.51,130.66 171.22,129.64 172.93,128.65 C174.64,127.66 176.35,126.72 178.05,125.80 C179.76,124.89 181.47,124.03 183.18,123.16 C184.89,122.29 186.60,121.44 188.31,120.60 C190.01,119.77 191.72,118.94 193.43,118.14 C195.14,117.35 196.85,116.58 198.56,115.82 C200.26,115.07 201.97,114.33 203.68,113.61 C205.39,112.90 207.10,112.19 208.81,111.51 C210.52,110.83 212.22,110.18 213.93,109.53 C215.64,108.89 217.35,108.27 219.06,107.65 C220.77,107.04 222.47,106.44 224.18,105.85 C225.89,105.26 227.60,104.68 229.31,104.11 C231.02,103.54 232.73,102.99 234.43,102.44 C236.14,101.89 237.85,101.35 239.56,100.83 C241.27,100.30 242.98,99.78 244.68,99.27 C246.39,98.76 248.10,98.24 249.81,97.76 C251.52,97.28 253.23,96.83 254.94,96.38 C256.64,95.94 258.35,95.49 260.06,95.06 C261.77,94.62 263.48,94.20 265.19,93.77 C266.89,93.35 268.60,92.94 270.31,92.53 C272.02,92.12 273.73,91.71 275.44,91.31 C277.15,90.91 278.85,90.52 280.56,90.13 C282.27,89.75 283.98,89.36 285.69,88.99 C287.40,88.61 289.11,88.24 290.81,87.87 C292.52,87.50 294.23,87.14 295.94,86.78 C297.65,86.42 299.36,86.07 301.06,85.73 C302.77,85.40 304.48,85.08 306.19,84.77 C307.90,84.45 309.61,84.13 311.32,83.82 C313.02,83.51 314.73,83.21 316.44,82.91 C318.15,82.60 319.86,82.30 321.57,82.01 C323.27,81.71 324.98,81.42 326.69,81.13 C328.40,80.84 330.11,80.56 331.82,80.27 C333.53,79.99 335.23,79.71 336.94,79.44 C338.65,79.16 340.36,78.89 342.07,78.62 C343.78,78.34 345.48,78.07 347.19,77.81 C348.90,77.55 350.61,77.29 352.32,77.04 C354.03,76.80 355.74,76.56 357.44,76.32 C359.15,76.07 360.86,75.84 362.57,75.60 C364.28,75.37 365.99,75.13 367.69,74.90 C369.40,74.67 371.11,74.44 372.82,74.22 C374.53,73.99 376.24,73.77 377.95,73.54 C379.65,73.32 381.36,73.10 383.07,72.89 C384.78,72.67 386.49,72.45 388.20,72.24 C389.91,72.03 391.61,71.82 393.32,71.61 C395.03,71.40 396.74,71.19 398.45,70.98 C400.16,70.78 401.86,70.57 403.57,70.36 C405.28,70.15 406.99,69.95 408.70,69.74 C410.41,69.54 412.12,69.34 413.82,69.14 C415.53,68.94 417.24,68.74 418.95,68.54 C420.66,68.35 422.37,68.15 424.07,67.96 C425.78,67.76 428.35,67.48 429.20,67.38" fill="none" stroke="#000" stroke-width="2.8" stroke-linecap="round"/>
<g stroke="#000" stroke-width="2.6" fill="none" stroke-linecap="square">
<rect x="88.9" y="38.6" width="377.20" height="164.60" stroke-linejoin="round"/>
<path d="M126.60,203.2 v-5.5 M126.60,38.6 v5.5 M164.34,203.2 v-3.4 M164.34,38.6 v3.4 M202.08,203.2 v-5.5 M202.08,38.6 v5.5 M239.82,203.2 v-3.4 M239.82,38.6 v3.4 M277.56,203.2 v-5.5 M277.56,38.6 v5.5 M315.30,203.2 v-3.4 M315.30,38.6 v3.4 M353.04,203.2 v-5.5 M353.04,38.6 v5.5 M390.78,203.2 v-3.4 M390.78,38.6 v3.4 M428.52,203.2 v-5.5 M428.52,38.6 v5.5 M88.9,193.77 h3.4 M466.1,193.77 h-3.4 M88.9,186.58 h3.4 M466.1,186.58 h-3.4 M88.9,181.01 h3.4 M466.1,181.01 h-3.4 M88.9,176.46 h3.4 M466.1,176.46 h-3.4 M88.9,172.61 h3.4 M466.1,172.61 h-3.4 M88.9,169.27 h3.4 M466.1,169.27 h-3.4 M88.9,166.33 h3.4 M466.1,166.33 h-3.4 M88.9,163.70 h5.8 M466.1,163.70 h-5.8 M88.9,146.39 h3.4 M466.1,146.39 h-3.4 M88.9,136.27 h3.4 M466.1,136.27 h-3.4 M88.9,129.08 h3.4 M466.1,129.08 h-3.4 M88.9,123.51 h3.4 M466.1,123.51 h-3.4 M88.9,118.96 h3.4 M466.1,118.96 h-3.4 M88.9,115.11 h3.4 M466.1,115.11 h-3.4 M88.9,111.77 h3.4 M466.1,111.77 h-3.4 M88.9,108.83 h3.4 M466.1,108.83 h-3.4 M88.9,106.20 h5.8 M466.1,106.20 h-5.8 M88.9,88.89 h3.4 M466.1,88.89 h-3.4 M88.9,78.77 h3.4 M466.1,78.77 h-3.4 M88.9,71.58 h3.4 M466.1,71.58 h-3.4 M88.9,66.01 h3.4 M466.1,66.01 h-3.4 M88.9,61.46 h3.4 M466.1,61.46 h-3.4 M88.9,57.61 h3.4 M466.1,57.61 h-3.4 M88.9,54.27 h3.4 M466.1,54.27 h-3.4 M88.9,51.33 h3.4 M466.1,51.33 h-3.4 M88.9,48.70 h5.8 M466.1,48.70 h-5.8" stroke-width="2.3" stroke-linecap="butt"/>
</g>
<text x="0.14" y="17.70" font-size="22.80" font-weight="bold" textLength="27.16" lengthAdjust="spacingAndGlyphs" fill="#000">(e)</text>
<text x="49.01" y="57.10" font-size="22.50" font-weight="bold" textLength="25.57" lengthAdjust="spacingAndGlyphs" fill="#000">10</text>
<text x="75.43" y="44.50" font-size="12.50" font-weight="bold" textLength="6.90" lengthAdjust="spacingAndGlyphs" fill="#000">5</text>
<text x="49.01" y="114.75" font-size="22.50" font-weight="bold" textLength="25.57" lengthAdjust="spacingAndGlyphs" fill="#000">10</text>
<text x="75.63" y="102.15" font-size="12.50" font-weight="bold" textLength="6.45" lengthAdjust="spacingAndGlyphs" fill="#000">4</text>
<text x="49.01" y="172.20" font-size="22.50" font-weight="bold" textLength="25.57" lengthAdjust="spacingAndGlyphs" fill="#000">10</text>
<text x="75.49" y="159.60" font-size="12.50" font-weight="bold" textLength="6.97" lengthAdjust="spacingAndGlyphs" fill="#000">3</text>
<text x="119.92" y="228.80" font-size="23.00" font-weight="bold" textLength="12.79" lengthAdjust="spacingAndGlyphs" fill="#000">0</text>
<text x="182.76" y="228.80" font-size="23.00" font-weight="bold" textLength="38.38" lengthAdjust="spacingAndGlyphs" fill="#000">100</text>
<text x="257.51" y="228.80" font-size="23.00" font-weight="bold" textLength="38.38" lengthAdjust="spacingAndGlyphs" fill="#000">200</text>
<text x="333.43" y="228.80" font-size="23.00" font-weight="bold" textLength="38.38" lengthAdjust="spacingAndGlyphs" fill="#000">300</text>
<text x="408.54" y="228.80" font-size="23.00" font-weight="bold" textLength="38.38" lengthAdjust="spacingAndGlyphs" fill="#000">400</text>
<text x="211.58" y="254.50" font-size="21.00" font-weight="bold" textLength="147.03" lengthAdjust="spacingAndGlyphs" fill="#000">Pulse Number</text>
<text transform="translate(41.80,209.00) rotate(-90)" x="-1.51" y="0" font-size="22.80" font-weight="bold" textLength="122.64" lengthAdjust="spacingAndGlyphs">Resistance</text>
<text transform="translate(41.80,77.70) rotate(-90)" x="-1.33" y="0" font-size="22.80" font-weight="normal" textLength="31.34" lengthAdjust="spacingAndGlyphs">(Ω)</text>
<line x1="107.5" y1="61.6" x2="146.8" y2="61.6" stroke="#000" stroke-width="2.6" stroke-linecap="round"/>
<text x="157.62" y="66.80" font-size="20.90" font-weight="bold" textLength="114.45" lengthAdjust="spacingAndGlyphs" fill="#000">Ideal Curve</text>
<circle cx="241.2" cy="150.3" r="4.1" fill="none" stroke="#ff1a1a" stroke-width="1.9"/>
<rect x="237.65" y="172.65" width="6.3" height="6.3" fill="none" stroke="#0a14ff" stroke-width="2"/>
<rect x="108" y="125" width="2.2" height="1.6" fill="#999"/><rect x="123" y="125" width="2.2" height="1.6" fill="#999"/>
<text x="264.50" y="156.70" font-size="18.60" font-weight="bold" textLength="88.68" lengthAdjust="spacingAndGlyphs" fill="#000">Exp Data</text>
<text x="264.88" y="182.70" font-size="18.60" font-weight="bold" textLength="88.30" lengthAdjust="spacingAndGlyphs" fill="#000">Sim Data</text>
<text x="359.51" y="182.70" font-size="18.60" font-weight="normal" textLength="4.40" lengthAdjust="spacingAndGlyphs" fill="#000">(</text>
<text x="366.87" y="182.70" font-size="18.60" font-weight="normal" textLength="8.79" lengthAdjust="spacingAndGlyphs" fill="#000">δ</text>
<text x="374.94" y="182.70" font-size="18.60" font-weight="bold" textLength="78.72" lengthAdjust="spacingAndGlyphs" fill="#000">R/R=9%</text>
<text x="455.66" y="182.70" font-size="18.60" font-weight="normal" textLength="4.61" lengthAdjust="spacingAndGlyphs" fill="#000">)</text>
<path d="M145.30,295.50 L156.06,307.40 L166.82,297.20 L177.58,299.60 L188.34,313.10 L199.10,304.80 L209.86,296.40 L220.62,292.80 L231.38,307.80 L242.14,315.30 L252.90,311.00 L263.66,319.25 L274.42,311.00 L285.18,312.00 L295.94,331.00 L306.70,356.70 L317.46,356.70 L328.22,378.60 L338.98,405.00 L349.74,405.90 L360.50,396.50 L371.26,419.50 L382.02,422.10 L392.78,417.30 L403.54,402.00 L414.30,418.30" fill="none" stroke="#0c0c80" stroke-width="2"/>
<rect x="141.15" y="291.35" width="8.3" height="8.3" fill="#fff" stroke="#0c0c80" stroke-width="3.1"/>
<rect x="151.91" y="303.25" width="8.3" height="8.3" fill="#fff" stroke="#0c0c80" stroke-width="3.1"/>
<rect x="162.67" y="293.05" width="8.3" height="8.3" fill="#fff" stroke="#0c0c80" stroke-width="3.1"/>
<rect x="173.43" y="295.45" width="8.3" height="8.3" fill="#fff" stroke="#0c0c80" stroke-width="3.1"/>
<rect x="184.19" y="308.95" width="8.3" height="8.3" fill="#fff" stroke="#0c0c80" stroke-width="3.1"/>
<rect x="194.95" y="300.65" width="8.3" height="8.3" fill="#fff" stroke="#0c0c80" stroke-width="3.1"/>
<rect x="205.71" y="292.25" width="8.3" height="8.3" fill="#fff" stroke="#0c0c80" stroke-width="3.1"/>
<rect x="216.47" y="288.65" width="8.3" height="8.3" fill="#fff" stroke="#0c0c80" stroke-width="3.1"/>
<rect x="227.23" y="303.65" width="8.3" height="8.3" fill="#fff" stroke="#0c0c80" stroke-width="3.1"/>
<rect x="237.99" y="311.15" width="8.3" height="8.3" fill="#fff" stroke="#0c0c80" stroke-width="3.1"/>
<rect x="248.75" y="306.85" width="8.3" height="8.3" fill="#fff" stroke="#0c0c80" stroke-width="3.1"/>
<rect x="259.51" y="315.10" width="8.3" height="8.3" fill="#fff" stroke="#0c0c80" stroke-width="3.1"/>
<rect x="270.27" y="306.85" width="8.3" height="8.3" fill="#fff" stroke="#0c0c80" stroke-width="3.1"/>
<rect x="281.03" y="307.85" width="8.3" height="8.3" fill="#fff" stroke="#0c0c80" stroke-width="3.1"/>
<rect x="291.79" y="326.85" width="8.3" height="8.3" fill="#fff" stroke="#0c0c80" stroke-width="3.1"/>
<rect x="302.55" y="352.55" width="8.3" height="8.3" fill="#fff" stroke="#0c0c80" stroke-width="3.1"/>
<rect x="313.31" y="352.55" width="8.3" height="8.3" fill="#fff" stroke="#0c0c80" stroke-width="3.1"/>
<rect x="324.07" y="374.45" width="8.3" height="8.3" fill="#fff" stroke="#0c0c80" stroke-width="3.1"/>
<rect x="334.83" y="400.85" width="8.3" height="8.3" fill="#fff" stroke="#0c0c80" stroke-width="3.1"/>
<rect x="345.59" y="401.75" width="8.3" height="8.3" fill="#fff" stroke="#0c0c80" stroke-width="3.1"/>
<rect x="356.35" y="392.35" width="8.3" height="8.3" fill="#fff" stroke="#0c0c80" stroke-width="3.1"/>
<rect x="367.11" y="415.35" width="8.3" height="8.3" fill="#fff" stroke="#0c0c80" stroke-width="3.1"/>
<rect x="377.87" y="417.95" width="8.3" height="8.3" fill="#fff" stroke="#0c0c80" stroke-width="3.1"/>
<rect x="388.63" y="413.15" width="8.3" height="8.3" fill="#fff" stroke="#0c0c80" stroke-width="3.1"/>
<rect x="399.39" y="397.85" width="8.3" height="8.3" fill="#fff" stroke="#0c0c80" stroke-width="3.1"/>
<rect x="410.15" y="414.15" width="8.3" height="8.3" fill="#fff" stroke="#0c0c80" stroke-width="3.1"/>
<path d="M145.30,300.00 L156.06,305.00 L166.82,298.75 L177.58,300.00 L188.34,305.60 L199.10,307.10 L209.86,300.30 L220.62,306.80 L231.38,308.10 L242.14,297.20 L252.90,310.80 L263.66,322.20 L274.42,310.80 L285.18,310.50 L295.94,316.50 L306.70,327.90 L317.46,321.20 L328.22,299.90 L338.98,335.40 L349.74,339.70 L360.50,328.30 L371.26,374.00 L382.02,366.10 L392.78,366.10 L403.54,381.30 L414.30,367.60" fill="none" stroke="#ff0a0a" stroke-width="2"/>
<ellipse cx="145.30" cy="300.00" rx="4.6" ry="4.2" fill="#fff" stroke="#ff0a0a" stroke-width="3.2"/>
<ellipse cx="156.06" cy="305.00" rx="4.6" ry="4.2" fill="#fff" stroke="#ff0a0a" stroke-width="3.2"/>
<ellipse cx="166.82" cy="298.75" rx="4.6" ry="4.2" fill="#fff" stroke="#ff0a0a" stroke-width="3.2"/>
<ellipse cx="177.58" cy="300.00" rx="4.6" ry="4.2" fill="#fff" stroke="#ff0a0a" stroke-width="3.2"/>
<ellipse cx="188.34" cy="305.60" rx="4.6" ry="4.2" fill="#fff" stroke="#ff0a0a" stroke-width="3.2"/>
<ellipse cx="199.10" cy="307.10" rx="4.6" ry="4.2" fill="#fff" stroke="#ff0a0a" stroke-width="3.2"/>
<ellipse cx="209.86" cy="300.30" rx="4.6" ry="4.2" fill="#fff" stroke="#ff0a0a" stroke-width="3.2"/>
<ellipse cx="220.62" cy="306.80" rx="4.6" ry="4.2" fill="#fff" stroke="#ff0a0a" stroke-width="3.2"/>
<ellipse cx="231.38" cy="308.10" rx="4.6" ry="4.2" fill="#fff" stroke="#ff0a0a" stroke-width="3.2"/>
<ellipse cx="242.14" cy="297.20" rx="4.6" ry="4.2" fill="#fff" stroke="#ff0a0a" stroke-width="3.2"/>
<ellipse cx="252.90" cy="310.80" rx="4.6" ry="4.2" fill="#fff" stroke="#ff0a0a" stroke-width="3.2"/>
<ellipse cx="263.66" cy="322.20" rx="4.6" ry="4.2" fill="#fff" stroke="#ff0a0a" stroke-width="3.2"/>
<ellipse cx="274.42" cy="310.80" rx="4.6" ry="4.2" fill="#fff" stroke="#ff0a0a" stroke-width="3.2"/>
<ellipse cx="285.18" cy="310.50" rx="4.6" ry="4.2" fill="#fff" stroke="#ff0a0a" stroke-width="3.2"/>
<ellipse cx="295.94" cy="316.50" rx="4.6" ry="4.2" fill="#fff" stroke="#ff0a0a" stroke-width="3.2"/>
<ellipse cx="306.70" cy="327.90" rx="4.6" ry="4.2" fill="#fff" stroke="#ff0a0a" stroke-width="3.2"/>
<ellipse cx="317.46" cy="321.20" rx="4.6" ry="4.2" fill="#fff" stroke="#ff0a0a" stroke-width="3.2"/>
<ellipse cx="328.22" cy="299.90" rx="4.6" ry="4.2" fill="#fff" stroke="#ff0a0a" stroke-width="3.2"/>
<ellipse cx="338.98" cy="335.40" rx="4.6" ry="4.2" fill="#fff" stroke="#ff0a0a" stroke-width="3.2"/>
<ellipse cx="349.74" cy="339.70" rx="4.6" ry="4.2" fill="#fff" stroke="#ff0a0a" stroke-width="3.2"/>
<ellipse cx="360.50" cy="328.30" rx="4.6" ry="4.2" fill="#fff" stroke="#ff0a0a" stroke-width="3.2"/>
<ellipse cx="371.26" cy="374.00" rx="4.6" ry="4.2" fill="#fff" stroke="#ff0a0a" stroke-width="3.2"/>
<ellipse cx="382.02" cy="366.10" rx="4.6" ry="4.2" fill="#fff" stroke="#ff0a0a" stroke-width="3.2"/>
<ellipse cx="392.78" cy="366.10" rx="4.6" ry="4.2" fill="#fff" stroke="#ff0a0a" stroke-width="3.2"/>
<ellipse cx="403.54" cy="381.30" rx="4.6" ry="4.2" fill="#fff" stroke="#ff0a0a" stroke-width="3.2"/>
<ellipse cx="414.30" cy="367.60" rx="4.6" ry="4.2" fill="#fff" stroke="#ff0a0a" stroke-width="3.2"/>
<path d="M145.30,295.00 L156.06,300.30 L166.82,298.90 L177.58,299.90 L188.34,300.75 L199.10,314.40 L209.86,300.60 L220.62,297.10 L231.38,295.90 L242.14,300.70 L252.90,301.60 L263.66,296.50 L274.42,300.90 L285.18,313.00 L295.94,298.90 L306.70,311.80 L317.46,311.25 L328.22,307.00 L338.98,315.50 L349.74,308.40 L360.50,310.50 L371.26,331.50 L382.02,319.80 L392.78,325.50 L403.54,321.25 L414.30,328.30" fill="none" stroke="#0a0aff" stroke-width="2"/>
<path d="M145.30,289.50 L151.70,300.50 L138.90,300.50Z" fill="#fff" stroke="#0a0aff" stroke-width="3.4" stroke-linejoin="round"/>
<path d="M156.06,294.80 L162.46,305.80 L149.66,305.80Z" fill="#fff" stroke="#0a0aff" stroke-width="3.4" stroke-linejoin="round"/>
<path d="M166.82,293.40 L173.22,304.40 L160.42,304.40Z" fill="#fff" stroke="#0a0aff" stroke-width="3.4" stroke-linejoin="round"/>
<path d="M177.58,294.40 L183.98,305.40 L171.18,305.40Z" fill="#fff" stroke="#0a0aff" stroke-width="3.4" stroke-linejoin="round"/>
<path d="M188.34,295.25 L194.74,306.25 L181.94,306.25Z" fill="#fff" stroke="#0a0aff" stroke-width="3.4" stroke-linejoin="round"/>
<path d="M199.10,308.90 L205.50,319.90 L192.70,319.90Z" fill="#fff" stroke="#0a0aff" stroke-width="3.4" stroke-linejoin="round"/>
<path d="M209.86,295.10 L216.26,306.10 L203.46,306.10Z" fill="#fff" stroke="#0a0aff" stroke-width="3.4" stroke-linejoin="round"/>
<path d="M220.62,291.60 L227.02,302.60 L214.22,302.60Z" fill="#fff" stroke="#0a0aff" stroke-width="3.4" stroke-linejoin="round"/>
<path d="M231.38,290.40 L237.78,301.40 L224.98,301.40Z" fill="#fff" stroke="#0a0aff" stroke-width="3.4" stroke-linejoin="round"/>
<path d="M242.14,295.20 L248.54,306.20 L235.74,306.20Z" fill="#fff" stroke="#0a0aff" stroke-width="3.4" stroke-linejoin="round"/>
<path d="M252.90,296.10 L259.30,307.10 L246.50,307.10Z" fill="#fff" stroke="#0a0aff" stroke-width="3.4" stroke-linejoin="round"/>
<path d="M263.66,291.00 L270.06,302.00 L257.26,302.00Z" fill="#fff" stroke="#0a0aff" stroke-width="3.4" stroke-linejoin="round"/>
<path d="M274.42,295.40 L280.82,306.40 L268.02,306.40Z" fill="#fff" stroke="#0a0aff" stroke-width="3.4" stroke-linejoin="round"/>
<path d="M285.18,307.50 L291.58,318.50 L278.78,318.50Z" fill="#fff" stroke="#0a0aff" stroke-width="3.4" stroke-linejoin="round"/>
<path d="M295.94,293.40 L302.34,304.40 L289.54,304.40Z" fill="#fff" stroke="#0a0aff" stroke-width="3.4" stroke-linejoin="round"/>
<path d="M306.70,306.30 L313.10,317.30 L300.30,317.30Z" fill="#fff" stroke="#0a0aff" stroke-width="3.4" stroke-linejoin="round"/>
<path d="M317.46,305.75 L323.86,316.75 L311.06,316.75Z" fill="#fff" stroke="#0a0aff" stroke-width="3.4" stroke-linejoin="round"/>
<path d="M328.22,301.50 L334.62,312.50 L321.82,312.50Z" fill="#fff" stroke="#0a0aff" stroke-width="3.4" stroke-linejoin="round"/>
<path d="M338.98,310.00 L345.38,321.00 L332.58,321.00Z" fill="#fff" stroke="#0a0aff" stroke-width="3.4" stroke-linejoin="round"/>
<path d="M349.74,302.90 L356.14,313.90 L343.34,313.90Z" fill="#fff" stroke="#0a0aff" stroke-width="3.4" stroke-linejoin="round"/>
<path d="M360.50,305.00 L366.90,316.00 L354.10,316.00Z" fill="#fff" stroke="#0a0aff" stroke-width="3.4" stroke-linejoin="round"/>
<path d="M371.26,326.00 L377.66,337.00 L364.86,337.00Z" fill="#fff" stroke="#0a0aff" stroke-width="3.4" stroke-linejoin="round"/>
<path d="M382.02,314.30 L388.42,325.30 L375.62,325.30Z" fill="#fff" stroke="#0a0aff" stroke-width="3.4" stroke-linejoin="round"/>
<path d="M392.78,320.00 L399.18,331.00 L386.38,331.00Z" fill="#fff" stroke="#0a0aff" stroke-width="3.4" stroke-linejoin="round"/>
<path d="M403.54,315.75 L409.94,326.75 L397.14,326.75Z" fill="#fff" stroke="#0a0aff" stroke-width="3.4" stroke-linejoin="round"/>
<path d="M414.30,322.80 L420.70,333.80 L407.90,333.80Z" fill="#fff" stroke="#0a0aff" stroke-width="3.4" stroke-linejoin="round"/>
<g stroke="#000" stroke-width="2.6" fill="none">
<rect x="91.3" y="274.5" width="377.00" height="164.70" stroke-linejoin="round"/>
<path d="M145.30,439.2 v-5.8 M145.30,274.5 v5.8 M199.10,439.2 v-3.5 M199.10,274.5 v3.5 M252.90,439.2 v-5.8 M252.90,274.5 v5.8 M306.70,439.2 v-3.5 M306.70,274.5 v3.5 M360.50,439.2 v-5.8 M360.50,274.5 v5.8 M414.30,439.2 v-3.5 M414.30,274.5 v3.5 M91.3,422.73 h3.6 M468.3,422.73 h-3.6 M91.3,406.26 h5.9 M468.3,406.26 h-5.9 M91.3,389.79 h3.6 M468.3,389.79 h-3.6 M91.3,373.32 h5.9 M468.3,373.32 h-5.9 M91.3,356.85 h3.6 M468.3,356.85 h-3.6 M91.3,340.38 h5.9 M468.3,340.38 h-5.9 M91.3,323.91 h3.6 M468.3,323.91 h-3.6 M91.3,307.44 h5.9 M468.3,307.44 h-5.9 M91.3,290.97 h3.6 M468.3,290.97 h-3.6" stroke-width="2.3"/>
</g>
<text x="0.10" y="250.00" font-size="22.80" font-weight="bold" textLength="23.04" lengthAdjust="spacingAndGlyphs" fill="#000">(f)</text>
<text x="56.49" y="445.60" font-size="20.30" font-weight="bold" textLength="28.22" lengthAdjust="spacingAndGlyphs" fill="#000">0.5</text>
<text x="56.69" y="412.66" font-size="20.30" font-weight="bold" textLength="28.22" lengthAdjust="spacingAndGlyphs" fill="#000">0.6</text>
<text x="56.90" y="379.72" font-size="20.30" font-weight="bold" textLength="28.22" lengthAdjust="spacingAndGlyphs" fill="#000">0.7</text>
<text x="56.59" y="346.78" font-size="20.30" font-weight="bold" textLength="28.22" lengthAdjust="spacingAndGlyphs" fill="#000">0.8</text>
<text x="56.69" y="313.84" font-size="20.30" font-weight="bold" textLength="28.22" lengthAdjust="spacingAndGlyphs" fill="#000">0.9</text>
<text x="56.80" y="280.90" font-size="20.30" font-weight="bold" textLength="28.22" lengthAdjust="spacingAndGlyphs" fill="#000">1.0</text>
<text x="139.39" y="461.90" font-size="20.20" font-weight="bold" textLength="11.23" lengthAdjust="spacingAndGlyphs" fill="#000">0</text>
<text x="241.14" y="461.90" font-size="20.20" font-weight="bold" textLength="22.47" lengthAdjust="spacingAndGlyphs" fill="#000">10</text>
<text x="349.04" y="461.90" font-size="20.20" font-weight="bold" textLength="22.47" lengthAdjust="spacingAndGlyphs" fill="#000">20</text>
<text x="456.74" y="461.90" font-size="20.20" font-weight="bold" textLength="22.47" lengthAdjust="spacingAndGlyphs" fill="#000">30</text>
<text x="133.26" y="487.00" font-size="21.70" font-weight="bold" textLength="289.55" lengthAdjust="spacingAndGlyphs" fill="#000">Resistance Variation (δR/R)</text>
<text transform="translate(42.90,413.75) rotate(-90)" x="-0.53" y="0" font-size="21.50" font-weight="bold" textLength="95.05" lengthAdjust="spacingAndGlyphs">Accuracy</text>
<line x1="117.3" y1="364.8" x2="145.7" y2="364.8" stroke="#0c0c80" stroke-width="2"/>
<rect x="128.20" y="361.60" width="6.4" height="6.4" fill="#fff" stroke="#0c0c80" stroke-width="2.3"/>
<line x1="117.3" y1="390.5" x2="145.7" y2="390.5" stroke="#ff0a0a" stroke-width="2"/>
<ellipse cx="131.40" cy="390.50" rx="3.1" ry="3.0" fill="#fff" stroke="#ff0a0a" stroke-width="2.4"/>
<line x1="117.3" y1="415.6" x2="145.7" y2="415.6" stroke="#0a0aff" stroke-width="2"/>
<path d="M131.40,411.80 L135.30,419.40 L127.50,419.40Z" fill="#fff" stroke="#0a0aff" stroke-width="2.4" stroke-linejoin="round"/>
<text x="151.67" y="369.20" font-size="19.50" font-weight="bold" textLength="136.12" lengthAdjust="spacingAndGlyphs" fill="#000">Single Device</text>
<text x="151.06" y="395.00" font-size="19.50" font-weight="bold" textLength="97.02" lengthAdjust="spacingAndGlyphs" fill="#000">2 Devices</text>
<text x="151.28" y="420.80" font-size="19.50" font-weight="bold" textLength="96.81" lengthAdjust="spacingAndGlyphs" fill="#000">3 Devices</text>
</svg>
</body></html>
